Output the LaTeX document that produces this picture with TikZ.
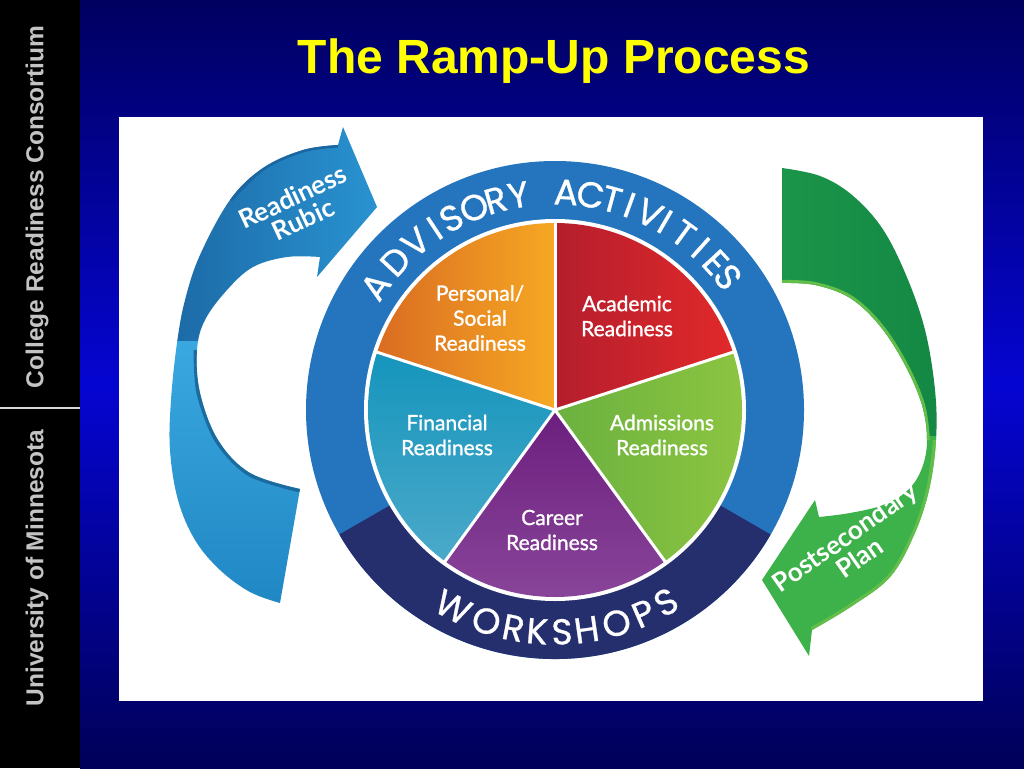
\documentclass[tikz,border=0pt]{standalone}
\usepackage{fontspec}
\setmainfont{Liberation Sans}
\newfontfamily\latofont{Lato}
\newfontfamily\latomed{Lato}[FakeBold=1.2]
\newfontfamily\ringfont{Poppins}[FakeBold=0.8]
\usetikzlibrary{calc}
\definecolor{bgtop}{HTML}{000060}
\definecolor{bgmid}{HTML}{0505D2}
\definecolor{bgbot}{HTML}{000058}
\definecolor{sidegray}{HTML}{C4C4C4}
\definecolor{titleyellow}{HTML}{FFFF00}
\definecolor{ringblue}{HTML}{2474BE}
\definecolor{ringnavy}{HTML}{262F6E}
\definecolor{orangeA}{HTML}{DA6C21}
\definecolor{orangeB}{HTML}{F6A823}
\definecolor{redA}{HTML}{B51E2D}
\definecolor{redB}{HTML}{E1292A}
\definecolor{greenA}{HTML}{6AB13F}
\definecolor{greenB}{HTML}{8FC641}
\definecolor{purpleA}{HTML}{6C1F7E}
\definecolor{purpleB}{HTML}{8A479B}
\definecolor{tealA}{HTML}{1595BC}
\definecolor{tealB}{HTML}{4BA9CA}
\definecolor{bluedk}{HTML}{1A66A2}
\definecolor{bluemid}{HTML}{2A95D3}
\definecolor{bluelt}{HTML}{3AA8E0}
\definecolor{bluebot}{HTML}{1F86C3}
\definecolor{bluestrip}{HTML}{1B6B9E}
\definecolor{greendk}{HTML}{138744}
\definecolor{greenmid}{HTML}{1C974A}
\definecolor{greenlt}{HTML}{3DB14A}
\definecolor{greenstrip}{HTML}{62BE48}
\tikzset{
  sidetext/.style={text=sidegray, font=\fontsize{24.5}{28}\selectfont\bfseries, inner sep=0pt},
  titletext/.style={text=titleyellow, font=\fontsize{48}{56}\selectfont\bfseries, inner sep=0pt},
  ringletter/.style={text=white, font=\ringfont\fontsize{36}{40}\selectfont, inner sep=0pt, text height=25pt, text depth=0pt},
  pielabel/.style={text=white, font=\latomed\fontsize{21}{25}\selectfont, align=center, inner sep=0pt},
  ribbonlabel/.style={text=white, font=\latofont\fontsize{26}{25}\selectfont\bfseries, align=center, inner sep=0pt},
  sep/.style={white, line width=3pt}
}
\begin{document}
\begin{tikzpicture}[x=1pt,y=1pt]
\useasboundingbox (0,0) rectangle (1024,-768);
% slide background
\shade[top color=bgtop, bottom color=bgbot, middle color=bgmid] (80,0) rectangle (1024,-768);
\fill[black] (0,0) rectangle (80,-768);
\draw[sidegray!70, line width=1.2pt] (0,-408) -- (80,-408);
\node[sidetext, rotate=90] (crc) at (37,-207) {College Readiness Consortium};
\node[sidetext, rotate=90] (umn) at (37,-568) {University of Minnesota};
\node[titletext, anchor=base] (title) at (554,-73) {The Ramp-Up Process};
\fill[white] (119,-117) rectangle (983,-701);

% blue ribbon (left)
\path[save path=\blueribbon] plot[smooth, tension=0.6] coordinates {(280,-603) (250,-592) (220,-570) (195,-540) (178,-500) (170,-450) (171,-400) (177,-343) (185,-300) (200,-255) (230,-200) (263,-168) (303,-150) (338,-145)}
  -- (343,-127) -- (377,-207) -- (317,-277) -- (320,-257)
  -- plot[smooth, tension=0.6] coordinates {(320,-257) (287,-257) (253,-267) (227,-290) (205,-320) (197,-350) (200,-393) (218,-440) (250,-473) (300,-489)} -- cycle;
\begin{scope}
  \clip[use path=\blueribbon];
  \shade[top color=bluelt, bottom color=bluebot] (150,-340) rectangle (330,-615);
  \shade[left color=bluedk, right color=bluemid] (150,-115) rectangle (390,-340);
  \draw[bluestrip, line width=7pt] plot[smooth] coordinates {(197,-350) (200,-393) (218,-440) (250,-473) (300,-489)};
  \draw[bluedk, line width=5pt] plot[smooth, tension=0.6] coordinates {(230,-200) (263,-168) (303,-150) (338,-145)};
\end{scope}
\node[ribbonlabel, rotate=25] (rubic) at (298,-208) {Readiness\\Rubic};

% green ribbon (right)
\path[save path=\greenribbon] plot[smooth, tension=0.6] coordinates {(782,-168) (820,-176) (852,-195) (882,-228) (906,-275) (925,-330) (935,-390) (936,-440) (929,-490) (914,-535) (890,-577) (852,-606) (812,-630)}
  -- (809,-656) -- (762,-580) -- (815,-500) -- (819,-517)
  -- plot[smooth, tension=0.6] coordinates {(819,-517) (850,-513) (883,-505) (908,-490) (922,-468) (927,-440) (922,-405) (905,-365) (880,-326) (850,-298) (815,-285) (782,-283)} -- cycle;
\begin{scope}
  \clip[use path=\greenribbon];
  \shade[left color=greenmid, right color=greendk] (760,-150) rectangle (950,-436);
  \fill[greenlt] (740,-436) rectangle (950,-670);
  \draw[greenstrip, line width=6pt] plot[smooth, tension=0.6] coordinates {(782,-283) (815,-285) (850,-298) (880,-326) (905,-365) (922,-405) (927,-440)};
  \draw[greenstrip, line width=6pt] plot[smooth, tension=0.6] coordinates {(936,-440) (929,-490) (914,-535) (890,-577) (852,-606) (812,-630)};
\end{scope}
\node[ribbonlabel, rotate=35] (plan) at (852,-547) {Postsecondary\\Plan};

% ring
\coordinate (C) at (555,-410);
\fill[ringblue] (C) circle[radius=249];
\fill[ringnavy] (C) -- ($(C)+(-150:249)$) arc[start angle=-150, end angle=-30, radius=249] -- cycle;
\fill[white] (C) circle[radius=191];

% pie slices
\shade[left color=orangeA, right color=orangeB] (C) -- ($(C)+(90:187)$) arc[start angle=90, end angle=162, radius=187] -- cycle;
\shade[left color=redA, right color=redB] (C) -- ($(C)+(18:187)$) arc[start angle=18, end angle=90, radius=187] -- cycle;
\shade[left color=greenA, right color=greenB] (C) -- ($(C)+(-54:187)$) arc[start angle=-54, end angle=18, radius=187] -- cycle;
\shade[top color=purpleA, bottom color=purpleB] (C) -- ($(C)+(-126:187)$) arc[start angle=-126, end angle=-54, radius=187] -- cycle;
\shade[top color=tealA, bottom color=tealB] (C) -- ($(C)+(162:187)$) arc[start angle=162, end angle=234, radius=187] -- cycle;
\foreach \a in {90,18,-54,-126,162} \draw[sep] (C) -- ($(C)+(\a:189)$);

% ring texts
\foreach \ch/\ang [count=\i] in {A/145.4, D/137.0, V/129.7, I/123.5, S/118.4, O/111.8, R/105.8, Y/99.7, A/87.1, C/80.6, T/74.9, I/70.0, V/64.3, I/59.7, T/53.9, I/48.1, E/42.6, S/37.6}
  \node[ringletter, rotate=\ang-90] (adv\i) at ($(C)+(\ang:218)$) {\ch};
\foreach \ch/\ang [count=\i] in {W/-117.3, O/-108.0, R/-100.8, K/-94.6, S/-88.2, H/-81.8, O/-73.9, P/-66.5, S/-60.0}
  \node[ringletter, rotate=\ang+90] (ws\i) at ($(C)+(\ang:222)$) {\ch};

% pie labels
\node[pielabel] (personal) at (480,-318) {Personal/\\Social\\Readiness};
\node[pielabel] (academic) at (627,-316) {Academic\\Readiness};
\node[pielabel] (financial) at (447,-435) {Financial\\Readiness};
\node[pielabel] (admissions) at (662,-435) {Admissions\\Readiness};
\node[pielabel] (career) at (552,-530) {Career\\Readiness};
\end{tikzpicture}
\end{document}
